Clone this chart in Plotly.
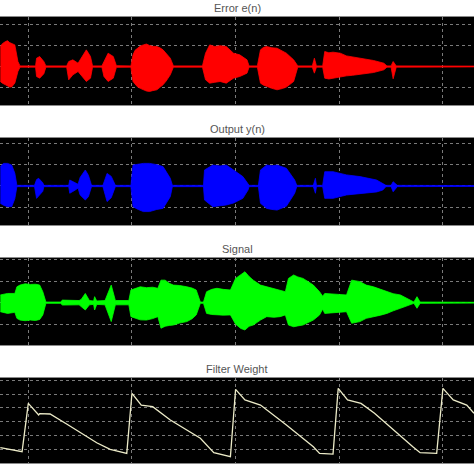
import plotly.graph_objects as go

# time axis (s); grid every 1 s
T_RANGE = [0.727, 5.30]

# ---- Error e(n): envelope (upper / lower amplitude, grid units)
err_t = [0.73, 0.75, 0.78, 0.80, 0.82, 0.84, 0.87, 0.90, 0.92, 1.07, 1.08, 1.11, 1.15, 1.17, 1.37, 1.39, 1.43, 1.48,
         1.51, 1.56, 1.60, 1.62, 1.71, 1.73, 1.77, 1.82, 1.85, 1.99, 2.01, 2.03, 2.05, 2.08, 2.11, 2.14, 2.17,
         2.20, 2.24, 2.27, 2.30, 2.33, 2.37, 2.40, 2.68, 2.71, 2.75, 2.80, 2.85, 2.91, 2.98, 3.04, 3.11, 3.13,
         3.21, 3.24, 3.27, 3.30, 3.35, 3.40, 3.45, 3.49, 3.56, 3.60, 3.74, 3.76, 3.78, 3.84, 3.86, 3.90, 3.94,
         4.01, 4.07, 4.13, 4.20, 4.26, 4.33, 4.43, 4.46, 4.50, 4.52, 4.55, 5.30]
err_up = [0.96, 1.10, 1.20, 1.24, 1.15, 1.10, 1.04, 0.24, 0.03, 0.03, 0.40, 0.48, 0.24, 0.03, 0.03, 0.24, 0.32, 0.16,
          0.40, 0.80, 0.48, 0.03, 0.03, 0.24, 0.64, 0.48, 0.04, 0.03, 0.56, 0.78, 0.88, 0.98, 1.04, 1.08, 1.01,
          0.97, 0.96, 0.90, 0.80, 0.64, 0.40, 0.03, 0.03, 0.64, 1.04, 0.96, 1.00, 0.96, 0.64, 0.56, 0.32, 0.03,
          0.03, 0.80, 0.92, 0.96, 0.90, 0.88, 0.76, 0.64, 0.32, 0.03, 0.03, 0.40, 0.03, 0.03, 0.72, 0.66, 0.69,
          0.64, 0.51, 0.46, 0.40, 0.34, 0.29, 0.16, 0.03, 0.03, 0.24, 0.03, 0.02]
err_lo = [-0.72, -0.80, -0.88, -0.95, -0.99, -0.98, -0.80, -0.24, -0.03, -0.03, -0.48, -0.56, -0.35, -0.03, -0.03, -0.64, -0.40, -0.24,
          -0.45, -0.72, -0.56, -0.03, -0.03, -0.48, -0.72, -0.56, -0.04, -0.03, -0.72, -0.85, -0.96, -1.05, -1.12, -1.18, -1.20,
          -1.16, -1.12, -1.00, -0.88, -0.70, -0.40, -0.03, -0.03, -0.64, -0.80, -0.76, -0.72, -0.80, -0.56, -0.48, -0.32, -0.03,
          -0.03, -0.80, -0.90, -0.96, -1.05, -1.12, -1.06, -0.99, -0.72, -0.03, -0.03, -0.32, -0.03, -0.03, -0.56, -0.60, -0.56,
          -0.51, -0.45, -0.42, -0.40, -0.34, -0.29, -0.16, -0.03, -0.03, -0.59, -0.03, -0.02]

# ---- Output y(n)
out_t = [0.73, 0.76, 0.80, 0.84, 0.87, 0.89, 1.06, 1.08, 1.10, 1.14, 1.15, 1.39, 1.40, 1.45, 1.48,
         1.50, 1.55, 1.58, 1.61, 1.72, 1.76, 1.80, 1.84, 1.99, 2.01, 2.06, 2.11, 2.17, 2.24, 2.30, 2.37,
         2.39, 2.69, 2.70, 2.78, 2.85, 2.91, 2.98, 3.07, 3.12, 3.13, 3.22, 3.24, 3.30, 3.35, 3.40, 3.49, 3.57,
         3.59, 3.75, 3.77, 3.78, 3.84, 3.86, 3.94, 4.07, 4.20, 4.36, 4.42, 4.45, 4.50, 4.52, 4.56, 5.30]
out_up = [0.91, 1.06, 1.06, 0.98, 0.60, 0.03, 0.03, 0.30, 0.36, 0.15, 0.03, 0.03, 0.28, 0.15, 0.08,
          0.40, 0.75, 0.50, 0.03, 0.03, 0.59, 0.45, 0.03, 0.03, 0.98, 1.02, 1.06, 1.06, 1.00, 0.91, 0.36,
          0.03, 0.03, 0.75, 0.98, 0.94, 0.98, 0.75, 0.44, 0.10, 0.03, 0.03, 0.75, 0.98, 0.95, 0.98, 0.83, 0.28,
          0.03, 0.03, 0.36, 0.03, 0.03, 0.67, 0.67, 0.52, 0.44, 0.28, 0.13, 0.03, 0.03, 0.20, 0.03, 0.02]
out_lo = [-0.81, -0.90, -0.97, -0.97, -0.60, -0.03, -0.03, -0.58, -0.50, -0.25, -0.03, -0.03, -0.34, -0.20, -0.10,
          -0.42, -0.66, -0.50, -0.03, -0.03, -0.73, -0.55, -0.03, -0.03, -0.97, -1.10, -1.20, -1.20, -1.10, -1.05, -0.50,
          -0.03, -0.03, -0.66, -0.97, -0.92, -0.89, -0.80, -0.58, -0.19, -0.03, -0.03, -0.81, -1.05, -1.10, -1.13, -0.95, -0.34,
          -0.03, -0.03, -0.34, -0.03, -0.03, -0.58, -0.58, -0.42, -0.34, -0.28, -0.19, -0.03, -0.03, -0.27, -0.03, -0.02]

# ---- Signal
sig_t = [0.73, 0.80, 0.87, 0.89, 0.92, 0.97, 1.02, 1.07, 1.11, 1.14, 1.17, 1.31, 1.33, 1.49, 1.51, 1.55, 1.59,
         1.63, 1.64, 1.66, 1.74, 1.77, 1.80, 1.84, 1.97, 1.99, 2.03, 2.08, 2.14, 2.20, 2.25, 2.28, 2.32, 2.36, 2.40,
         2.46, 2.53, 2.58, 2.62, 2.66, 2.69, 2.72, 2.77, 2.82, 2.88, 2.95, 3.00, 3.05, 3.09, 3.13, 3.17, 3.24, 3.30,
         3.37, 3.43, 3.48, 3.51, 3.56, 3.60, 3.65, 3.70, 3.75, 3.81, 3.84, 3.86, 3.97, 4.07, 4.12, 4.16, 4.20,
         4.26, 4.33, 4.40, 4.46, 4.52, 4.59, 4.68, 4.72, 4.75, 4.78, 5.30]
sig_up = [0.36, 0.43, 0.43, 0.74, 0.82, 0.88, 0.85, 0.86, 0.82, 0.51, 0.03, 0.03, 0.12, 0.10, 0.15, 0.43, 0.10,
          0.08, 0.28, 0.08, 0.10, 0.45, 0.82, 0.10, 0.10, 0.59, 0.66, 0.74, 0.70, 0.72, 0.67, 1.05, 1.05, 0.90, 0.82,
          0.80, 0.74, 0.68, 0.59, 0.03, 0.03, 0.51, 0.62, 0.67, 0.62, 0.59, 1.13, 1.30, 1.44, 1.22, 1.05, 0.82, 0.74,
          0.66, 0.59, 0.51, 1.13, 1.29, 1.20, 1.13, 0.98, 0.82, 0.51, 0.30, 0.43, 0.40, 0.36, 1.05, 1.00, 0.98,
          0.82, 0.74, 0.62, 0.51, 0.42, 0.36, 0.12, 0.03, 0.28, 0.03, 0.02]
sig_lo = [-0.42, -0.50, -0.45, -0.73, -0.81, -0.84, -0.81, -0.83, -0.78, -0.57, -0.03, -0.03, -0.11, -0.10, -0.15, -0.34, -0.10,
          -0.08, -0.34, -0.08, -0.10, -0.50, -0.88, -0.10, -0.10, -0.65, -0.72, -0.80, -0.81, -0.74, -0.65, -1.19, -1.10, -1.06, -1.04,
          -0.95, -0.88, -0.75, -0.57, -0.03, -0.03, -0.50, -0.55, -0.57, -0.58, -0.57, -1.00, -1.20, -1.27, -1.10, -1.04, -0.81, -0.65,
          -0.68, -0.65, -0.57, -1.04, -1.12, -1.08, -1.04, -0.92, -0.81, -0.57, -0.30, -0.50, -0.45, -0.42, -0.96, -0.92, -0.88,
          -0.73, -0.65, -0.58, -0.50, -0.38, -0.26, -0.11, -0.03, -0.26, -0.03, -0.02]

# ---- Filter Weight
w_t = [0.73, 0.93, 0.94, 1.00, 1.10, 1.11, 1.21, 1.37, 1.66, 1.79, 1.93, 1.95,
       2.00, 2.09, 2.20, 2.37, 2.66, 2.79, 2.95,
       3.00, 3.09, 3.24, 3.49, 3.75, 3.81, 3.94,
       3.99, 4.08, 4.21, 4.34, 4.71, 4.78, 4.94,
       5.00, 5.10, 5.23, 5.30]
w_val = [1.11, 0.87, 0.82, 4.32, 3.48, 3.58, 3.55, 2.83, 1.47, 0.99, 0.75, 0.70,
         5.05, 4.20, 4.08, 3.12, 1.79, 0.75, 0.46,
         5.34, 4.57, 4.20, 2.75, 1.18, 0.70, 0.65,
         5.41, 4.57, 4.32, 3.60, 1.18, 0.75, 0.70,
         5.41, 4.57, 4.20, 3.60]

titles = ["Error e(n)", "Output y(n)", "Signal", "Filter Weight"]
domains = [[0.8027, 1.0], [0.5336, 0.7287], [0.2646, 0.4596], [0.0, 0.1906]]
yranges = [[-1.85, 2.38], [-1.83, 2.25], [-1.97, 2.08], [0.0, 6.16]]

fig = go.Figure()

def env_trace(t, up, lo, color, idx):
    xs = list(t) + list(reversed(t))
    ys = list(up) + list(reversed(lo))
    sfx = "" if idx == 1 else str(idx)
    return go.Scatter(x=xs, y=ys, fill="toself", fillcolor=color, mode="lines",
                      line=dict(color=color, width=0.8), xaxis="x" + sfx, yaxis="y" + sfx,
                      hoverinfo="skip", showlegend=False)

fig.add_trace(env_trace(err_t, err_up, err_lo, "#ff0000", 1))
fig.add_trace(env_trace(out_t, out_up, out_lo, "#0000ff", 2))
fig.add_trace(env_trace(sig_t, sig_up, sig_lo, "#00ff00", 3))
fig.add_trace(go.Scatter(x=w_t, y=w_val, mode="lines", line=dict(color="#ecebc8", width=1.3),
                         xaxis="x4", yaxis="y4", showlegend=False, hoverinfo="skip"))

layout = dict(width=474, height=474, margin=dict(l=0, r=0, t=17, b=11),
              paper_bgcolor="white", plot_bgcolor="black", showlegend=False,
              font=dict(family="Liberation Sans, Arial, sans-serif"))
annotations = []
for i in range(4):
    sfx = "" if i == 0 else str(i + 1)
    layout["xaxis" + sfx] = dict(range=T_RANGE, domain=[0, 1], anchor="y" + sfx, tick0=1, dtick=1,
                                 showticklabels=False, ticks="", showgrid=True, gridcolor="#7a7a7a",
                                 griddash="dot", gridwidth=1, zeroline=False, showline=True,
                                 mirror=True, linecolor="#8a8a8a", linewidth=1)
    layout["yaxis" + sfx] = dict(range=yranges[i], domain=domains[i], anchor="x" + sfx, tick0=0, dtick=1,
                                 showticklabels=False, ticks="", showgrid=True, gridcolor="#7a7a7a",
                                 griddash="dot", gridwidth=1, zeroline=False, showline=True,
                                 mirror=True, linecolor="#8a8a8a", linewidth=1)
    annotations.append(dict(text=titles[i], x=0.5, xref="paper", y=domains[i][1], yref="paper",
                            xanchor="center", yanchor="bottom", yshift=1, showarrow=False,
                            font=dict(size=11, color="#555555")))
layout["annotations"] = annotations
fig.update_layout(**layout)
fig.write_html("out.html", config={"displayModeBar": False},
               post_script="document.body.style.margin='0';document.body.style.overflow='hidden';")
